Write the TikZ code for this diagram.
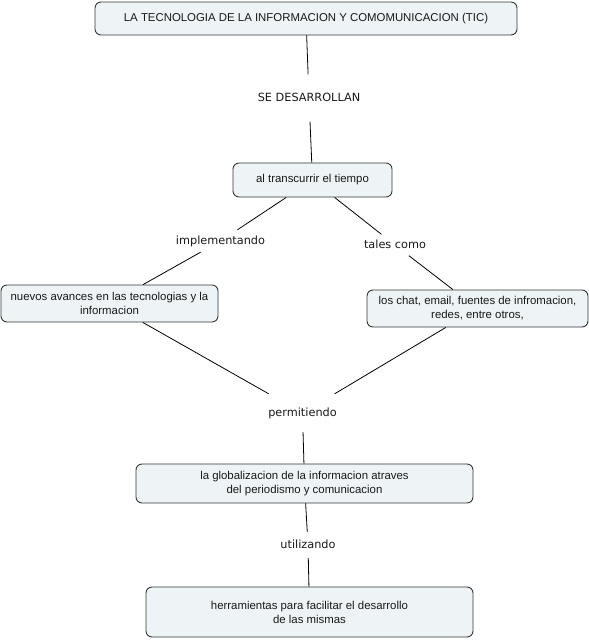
\documentclass[tikz,border=0pt]{standalone}
\usepackage{fontspec}
\setmainfont{Liberation Sans}
\newfontfamily\lblfont{DejaVu Sans}
\definecolor{boxfill}{RGB}{238,243,246}
\definecolor{boxline}{RGB}{55,55,55}
\definecolor{txt}{RGB}{25,25,25}
\begin{document}
\begin{tikzpicture}[x=1pt,y=-1pt,
  concept/.style={draw=boxline, line width=0.9pt, fill=boxfill, rounded corners=6pt,
    align=center, text=txt, inner sep=2pt,
    font=\fontsize{11.4}{14}\selectfont},
  lbl/.style={text=txt, inner xsep=1.5pt, text height=8.5pt, text depth=2.5pt,
    font=\lblfont\fontsize{11.3}{13}\selectfont},
  link/.style={draw=black, line width=0.8pt}]
\fill[white] (0,0) rectangle (589,640);
\useasboundingbox (0,0) rectangle (589,640);

\node[concept, minimum width=422pt, minimum height=33pt] (top) at (306,18.5)
  {LA TECNOLOGIA DE LA INFORMACION Y COMOMUNICACION (TIC)};
\node[concept, minimum width=159pt, minimum height=34pt] (al) at (312.5,180)
  {al transcurrir el tiempo};
\node[concept, minimum width=217pt, minimum height=37pt] (left) at (109.5,303.5)
  {nuevos avances en las tecnologias y la\\informacion};
\node[concept, minimum width=221pt, minimum height=37pt] (right) at (477.5,308.5)
  {los chat, email, fuentes de infromacion,\\redes, entre otros,};
\node[concept, minimum width=337pt, minimum height=39pt] (glob) at (304.5,483.5)
  {la globalizacion de la informacion atraves\\del periodismo y comunicacion};
\node[concept, minimum width=327pt, minimum height=50pt] (herr) at (309.5,612)
  {herramientas para facilitar el desarrollo\\de las mismas};

\node[lbl, inner ysep=18pt] (se) at (309,98) {SE DESARROLLAN};
\node[lbl, inner ysep=5.5pt] (impl) at (220.5,241) {implementando};
\node[lbl, inner ysep=5pt] (tales) at (395,245) {tales como};
\node[lbl, inner ysep=13.5pt] (perm) at (302.5,413) {permitiendo};
\node[lbl, inner ysep=7.5pt] (util) at (308,545) {utilizando};

\draw[link] (top) -- (se);
\draw[link] (se) -- (al);
\draw[link] (al) -- (impl);
\draw[link] (impl) -- (left);
\draw[link] (al) -- (tales);
\draw[link] (tales) -- (right);
\draw[link] (left) -- (perm);
\draw[link] (right) -- (perm);
\draw[link] (perm) -- (glob);
\draw[link] (glob) -- (util);
\draw[link] (util) -- (herr);
\end{tikzpicture}
\end{document}
